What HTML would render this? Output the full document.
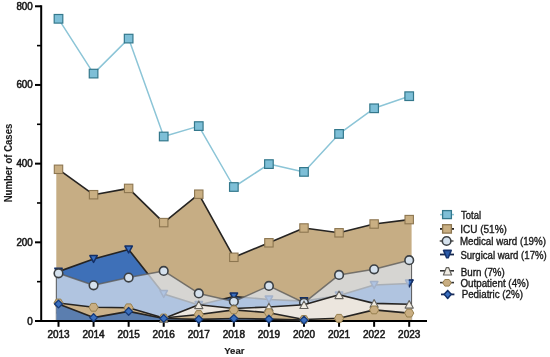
<!DOCTYPE html>
<html><head><meta charset="utf-8"><style>
html,body{margin:0;padding:0;background:#fff;}
svg{display:block;filter:blur(0.3px);}
text{font-family:"Liberation Sans",Arial,sans-serif;fill:#1a1a1a;stroke:#1a1a1a;stroke-width:0.25px;}
</style></head><body>
<svg width="550" height="357" viewBox="0 0 550 357">
<rect width="550" height="357" fill="#fff"/>
<line x1="41.2" y1="5.3" x2="41.2" y2="322.0" stroke="#000" stroke-width="2"/>
<line x1="35" y1="321.0" x2="427" y2="321.0" stroke="#000" stroke-width="2"/>
<line x1="35" y1="6.28" x2="41.2" y2="6.28" stroke="#000" stroke-width="2"/>
<line x1="35" y1="84.96" x2="41.2" y2="84.96" stroke="#000" stroke-width="2"/>
<line x1="35" y1="163.64" x2="41.2" y2="163.64" stroke="#000" stroke-width="2"/>
<line x1="35" y1="242.32" x2="41.2" y2="242.32" stroke="#000" stroke-width="2"/>
<line x1="37" y1="45.62" x2="41.2" y2="45.62" stroke="#000" stroke-width="1.6"/>
<line x1="37" y1="124.3" x2="41.2" y2="124.3" stroke="#000" stroke-width="1.6"/>
<line x1="37" y1="202.98" x2="41.2" y2="202.98" stroke="#000" stroke-width="1.6"/>
<line x1="37" y1="281.66" x2="41.2" y2="281.66" stroke="#000" stroke-width="1.6"/>
<line x1="58.5" y1="321.0" x2="58.5" y2="326.8" stroke="#000" stroke-width="2"/>
<line x1="93.57" y1="321.0" x2="93.57" y2="326.8" stroke="#000" stroke-width="2"/>
<line x1="128.64" y1="321.0" x2="128.64" y2="326.8" stroke="#000" stroke-width="2"/>
<line x1="163.71" y1="321.0" x2="163.71" y2="326.8" stroke="#000" stroke-width="2"/>
<line x1="198.78" y1="321.0" x2="198.78" y2="326.8" stroke="#000" stroke-width="2"/>
<line x1="233.85" y1="321.0" x2="233.85" y2="326.8" stroke="#000" stroke-width="2"/>
<line x1="268.92" y1="321.0" x2="268.92" y2="326.8" stroke="#000" stroke-width="2"/>
<line x1="303.99" y1="321.0" x2="303.99" y2="326.8" stroke="#000" stroke-width="2"/>
<line x1="339.06" y1="321.0" x2="339.06" y2="326.8" stroke="#000" stroke-width="2"/>
<line x1="374.13" y1="321.0" x2="374.13" y2="326.8" stroke="#000" stroke-width="2"/>
<line x1="409.2" y1="321.0" x2="409.2" y2="326.8" stroke="#000" stroke-width="2"/>
<polygon points="56.3,320 56.3,169.3 58.5,169.3 93.57,194.7 128.64,188.4 163.71,222.6 198.78,194.2 233.85,257.3 268.92,242.8 303.99,228 339.06,232.8 374.13,224 409.2,219.6 411.6,219.6 411.6,320" fill="#c6ad84" fill-opacity="1.0" stroke="none"/>
<polyline points="56.3,169.3 58.5,169.3 93.57,194.7 128.64,188.4 163.71,222.6 198.78,194.2 233.85,257.3 268.92,242.8 303.99,228 339.06,232.8 374.13,224 409.2,219.6 411.6,219.6" fill="none" stroke="#262422" stroke-width="1.65" stroke-opacity="1.0" stroke-linejoin="round"/>

<rect x="54.3" y="165.1" width="8.4" height="8.4" fill="#c9af83" stroke="#8c7650" stroke-width="1.1"/>
<rect x="89.37" y="190.5" width="8.4" height="8.4" fill="#c9af83" stroke="#8c7650" stroke-width="1.1"/>
<rect x="124.44" y="184.2" width="8.4" height="8.4" fill="#c9af83" stroke="#8c7650" stroke-width="1.1"/>
<rect x="159.51" y="218.4" width="8.4" height="8.4" fill="#c9af83" stroke="#8c7650" stroke-width="1.1"/>
<rect x="194.58" y="190" width="8.4" height="8.4" fill="#c9af83" stroke="#8c7650" stroke-width="1.1"/>
<rect x="229.65" y="253.1" width="8.4" height="8.4" fill="#c9af83" stroke="#8c7650" stroke-width="1.1"/>
<rect x="264.72" y="238.6" width="8.4" height="8.4" fill="#c9af83" stroke="#8c7650" stroke-width="1.1"/>
<rect x="299.79" y="223.8" width="8.4" height="8.4" fill="#c9af83" stroke="#8c7650" stroke-width="1.1"/>
<rect x="334.86" y="228.6" width="8.4" height="8.4" fill="#c9af83" stroke="#8c7650" stroke-width="1.1"/>
<rect x="369.93" y="219.8" width="8.4" height="8.4" fill="#c9af83" stroke="#8c7650" stroke-width="1.1"/>
<rect x="405" y="215.4" width="8.4" height="8.4" fill="#c9af83" stroke="#8c7650" stroke-width="1.1"/>
<polygon points="56.3,320 56.3,271.6 58.5,271.6 93.57,259 128.64,249.5 163.71,294 198.78,305 233.85,296.5 268.92,299.5 303.99,301.1 339.06,295.5 374.13,285 409.2,283.5 411.6,283.5 411.6,320" fill="#3e70b8" fill-opacity="1.0" stroke="none"/>
<polyline points="56.3,271.6 58.5,271.6 93.57,259 128.64,249.5 163.71,294 198.78,305 233.85,296.5 268.92,299.5 303.99,301.1 339.06,295.5 374.13,285 409.2,283.5 411.6,283.5" fill="none" stroke="#262422" stroke-width="1.65" stroke-opacity="1.0" stroke-linejoin="round"/>

<polygon points="54.8,268.2 62.2,268.2 58.5,275" fill="#3a6fc0" stroke="#132f66" stroke-width="1.5" stroke-linejoin="round"/>
<polygon points="89.87,255.6 97.27,255.6 93.57,262.4" fill="#3a6fc0" stroke="#132f66" stroke-width="1.5" stroke-linejoin="round"/>
<polygon points="124.94,246.1 132.34,246.1 128.64,252.9" fill="#3a6fc0" stroke="#132f66" stroke-width="1.5" stroke-linejoin="round"/>
<polygon points="160.01,290.6 167.41,290.6 163.71,297.4" fill="#3a6fc0" stroke="#132f66" stroke-width="1.5" stroke-linejoin="round"/>
<polygon points="195.08,301.6 202.48,301.6 198.78,308.4" fill="#3a6fc0" stroke="#132f66" stroke-width="1.5" stroke-linejoin="round"/>
<polygon points="230.15,293.1 237.55,293.1 233.85,299.9" fill="#3a6fc0" stroke="#132f66" stroke-width="1.5" stroke-linejoin="round"/>
<polygon points="265.22,296.1 272.62,296.1 268.92,302.9" fill="#3a6fc0" stroke="#132f66" stroke-width="1.5" stroke-linejoin="round"/>
<polygon points="300.29,297.7 307.69,297.7 303.99,304.5" fill="#3a6fc0" stroke="#132f66" stroke-width="1.5" stroke-linejoin="round"/>
<polygon points="335.36,292.1 342.76,292.1 339.06,298.9" fill="#3a6fc0" stroke="#132f66" stroke-width="1.5" stroke-linejoin="round"/>
<polygon points="370.43,281.6 377.83,281.6 374.13,288.4" fill="#3a6fc0" stroke="#132f66" stroke-width="1.5" stroke-linejoin="round"/>
<polygon points="405.5,280.1 412.9,280.1 409.2,286.9" fill="#3a6fc0" stroke="#132f66" stroke-width="1.5" stroke-linejoin="round"/>
<polygon points="56.3,320 56.3,273.3 58.5,273.3 93.57,285.3 128.64,277.6 163.71,270.9 198.78,293.4 233.85,301.5 268.92,285.9 303.99,302.8 339.06,274.9 374.13,269.3 409.2,260.2 411.6,260.2 411.6,320" fill="rgb(220,229,240)" fill-opacity="0.72" stroke="none"/>
<polyline points="56.3,320 56.3,273.3" fill="none" stroke="#5a5a5a" stroke-width="1"/>
<polyline points="411.6,260.2 411.6,320" fill="none" stroke="#5a5a5a" stroke-width="1"/>
<polyline points="56.3,273.3 58.5,273.3 93.57,285.3 128.64,277.6 163.71,270.9 198.78,293.4 233.85,301.5 268.92,285.9 303.99,302.8 339.06,274.9 374.13,269.3 409.2,260.2 411.6,260.2" fill="none" stroke="#5e5c5a" stroke-width="1.5" stroke-opacity="0.8" stroke-linejoin="round"/>

<circle cx="58.5" cy="273.3" r="4.3" fill="#d5e1ed" stroke="#3c4044" stroke-width="1.6"/>
<circle cx="93.57" cy="285.3" r="4.3" fill="#d5e1ed" stroke="#3c4044" stroke-width="1.6"/>
<circle cx="128.64" cy="277.6" r="4.3" fill="#d5e1ed" stroke="#3c4044" stroke-width="1.6"/>
<circle cx="163.71" cy="270.9" r="4.3" fill="#d5e1ed" stroke="#3c4044" stroke-width="1.6"/>
<circle cx="198.78" cy="293.4" r="4.3" fill="#d5e1ed" stroke="#3c4044" stroke-width="1.6"/>
<circle cx="233.85" cy="301.5" r="4.3" fill="#d5e1ed" stroke="#3c4044" stroke-width="1.6"/>
<circle cx="268.92" cy="285.9" r="4.3" fill="#d5e1ed" stroke="#3c4044" stroke-width="1.6"/>
<circle cx="303.99" cy="302.8" r="4.3" fill="#d5e1ed" stroke="#3c4044" stroke-width="1.6"/>
<circle cx="339.06" cy="274.9" r="4.3" fill="#d5e1ed" stroke="#3c4044" stroke-width="1.6"/>
<circle cx="374.13" cy="269.3" r="4.3" fill="#d5e1ed" stroke="#3c4044" stroke-width="1.6"/>
<circle cx="409.2" cy="260.2" r="4.3" fill="#d5e1ed" stroke="#3c4044" stroke-width="1.6"/>
<clipPath id="cr"><rect x="408.8" y="270" width="10" height="30"/></clipPath>
<g clip-path="url(#cr)"><polygon points="405.5,280.1 412.9,280.1 409.2,286.9" fill="#3a6fc0" stroke="#132f66" stroke-width="1.5" stroke-linejoin="round"/></g>
<polygon points="56.3,320 56.3,313 58.5,313 93.57,315 128.64,315 163.71,318.5 198.78,304.8 233.85,308.5 268.92,307 303.99,304.7 339.06,294.8 374.13,303.4 409.2,304.3 411.6,304.3 411.6,320" fill="#ece6de" fill-opacity="1.0" stroke="none"/>
<polyline points="56.3,313 58.5,313 93.57,315 128.64,315 163.71,318.5 198.78,304.8 233.85,308.5 268.92,307 303.99,304.7 339.06,294.8 374.13,303.4 409.2,304.3 411.6,304.3" fill="none" stroke="#262422" stroke-width="1.65" stroke-opacity="1.0" stroke-linejoin="round"/>

<polygon points="159.61,322.3 167.81,322.3 163.71,314.7" fill="#efebe2" stroke="#65635e" stroke-width="1.1" stroke-linejoin="round"/>
<polygon points="194.68,308.6 202.88,308.6 198.78,301" fill="#efebe2" stroke="#65635e" stroke-width="1.1" stroke-linejoin="round"/>
<polygon points="229.75,312.3 237.95,312.3 233.85,304.7" fill="#efebe2" stroke="#65635e" stroke-width="1.1" stroke-linejoin="round"/>
<polygon points="264.82,310.8 273.02,310.8 268.92,303.2" fill="#efebe2" stroke="#65635e" stroke-width="1.1" stroke-linejoin="round"/>
<polygon points="299.89,308.5 308.09,308.5 303.99,300.9" fill="#efebe2" stroke="#65635e" stroke-width="1.1" stroke-linejoin="round"/>
<polygon points="334.96,298.6 343.16,298.6 339.06,291" fill="#efebe2" stroke="#65635e" stroke-width="1.1" stroke-linejoin="round"/>
<polygon points="370.03,307.2 378.23,307.2 374.13,299.6" fill="#efebe2" stroke="#65635e" stroke-width="1.1" stroke-linejoin="round"/>
<polygon points="405.1,308.1 413.3,308.1 409.2,300.5" fill="#efebe2" stroke="#65635e" stroke-width="1.1" stroke-linejoin="round"/>
<polygon points="56.3,320 56.3,303 58.5,303 93.57,307.3 128.64,307.8 163.71,318 198.78,314.5 233.85,309.9 268.92,312.7 303.99,319.5 339.06,318.3 374.13,309.9 409.2,313.1 411.6,313.1 411.6,320" fill="#cbb28a" fill-opacity="1.0" stroke="none"/>
<polyline points="56.3,303 58.5,303 93.57,307.3 128.64,307.8 163.71,318 198.78,314.5 233.85,309.9 268.92,312.7 303.99,319.5 339.06,318.3 374.13,309.9 409.2,313.1 411.6,313.1" fill="none" stroke="#262422" stroke-width="1.65" stroke-opacity="1.0" stroke-linejoin="round"/>

<polygon points="53.9,303 56.2,299.1 60.8,299.1 63.1,303 60.8,306.9 56.2,306.9" fill="#c9ae82" stroke="#97804f" stroke-width="1"/>
<polygon points="88.97,307.3 91.27,303.4 95.87,303.4 98.17,307.3 95.87,311.2 91.27,311.2" fill="#c9ae82" stroke="#97804f" stroke-width="1"/>
<polygon points="124.04,307.8 126.34,303.9 130.94,303.9 133.24,307.8 130.94,311.7 126.34,311.7" fill="#c9ae82" stroke="#97804f" stroke-width="1"/>
<polygon points="159.11,318 161.41,314.1 166.01,314.1 168.31,318 166.01,321.9 161.41,321.9" fill="#c9ae82" stroke="#97804f" stroke-width="1"/>
<polygon points="194.18,314.5 196.48,310.6 201.08,310.6 203.38,314.5 201.08,318.4 196.48,318.4" fill="#c9ae82" stroke="#97804f" stroke-width="1"/>
<polygon points="229.25,309.9 231.55,306 236.15,306 238.45,309.9 236.15,313.8 231.55,313.8" fill="#c9ae82" stroke="#97804f" stroke-width="1"/>
<polygon points="264.32,312.7 266.62,308.8 271.22,308.8 273.52,312.7 271.22,316.6 266.62,316.6" fill="#c9ae82" stroke="#97804f" stroke-width="1"/>
<polygon points="299.39,319.5 301.69,315.6 306.29,315.6 308.59,319.5 306.29,323.4 301.69,323.4" fill="#c9ae82" stroke="#97804f" stroke-width="1"/>
<polygon points="334.46,318.3 336.76,314.4 341.36,314.4 343.66,318.3 341.36,322.2 336.76,322.2" fill="#c9ae82" stroke="#97804f" stroke-width="1"/>
<polygon points="369.53,309.9 371.83,306 376.43,306 378.73,309.9 376.43,313.8 371.83,313.8" fill="#c9ae82" stroke="#97804f" stroke-width="1"/>
<polygon points="404.6,313.1 406.9,309.2 411.5,309.2 413.8,313.1 411.5,317 406.9,317" fill="#c9ae82" stroke="#97804f" stroke-width="1"/>
<polygon points="56.3,320 56.3,304 58.5,304 93.57,317.6 128.64,311.4 163.71,318.5 198.78,319.4 233.85,318.5 268.92,319.1 303.99,320.1 306.39,320.1 306.39,320" fill="#3e70b8" fill-opacity="0.8" stroke="none"/>
<polyline points="56.3,304 58.5,304 93.57,317.6 128.64,311.4 163.71,318.5 198.78,319.4 233.85,318.5 268.92,319.1 303.99,320.1 306.39,320.1" fill="none" stroke="#262422" stroke-width="1.65" stroke-opacity="1.0" stroke-linejoin="round"/>

<polygon points="58.5,300.1 62.4,304 58.5,307.9 54.6,304" fill="#3b70c0" stroke="#163a78" stroke-width="1.3" stroke-linejoin="round"/>
<polygon points="93.57,313.7 97.47,317.6 93.57,321.5 89.67,317.6" fill="#3b70c0" stroke="#163a78" stroke-width="1.3" stroke-linejoin="round"/>
<polygon points="128.64,307.5 132.54,311.4 128.64,315.3 124.74,311.4" fill="#3b70c0" stroke="#163a78" stroke-width="1.3" stroke-linejoin="round"/>
<polygon points="163.71,314.6 167.61,318.5 163.71,322.4 159.81,318.5" fill="#3b70c0" stroke="#163a78" stroke-width="1.3" stroke-linejoin="round"/>
<polygon points="198.78,315.5 202.68,319.4 198.78,323.3 194.88,319.4" fill="#3b70c0" stroke="#163a78" stroke-width="1.3" stroke-linejoin="round"/>
<polygon points="233.85,314.6 237.75,318.5 233.85,322.4 229.95,318.5" fill="#3b70c0" stroke="#163a78" stroke-width="1.3" stroke-linejoin="round"/>
<polygon points="268.92,315.2 272.82,319.1 268.92,323 265.02,319.1" fill="#3b70c0" stroke="#163a78" stroke-width="1.3" stroke-linejoin="round"/>
<polygon points="303.99,316.2 307.89,320.1 303.99,324 300.09,320.1" fill="#3b70c0" stroke="#163a78" stroke-width="1.3" stroke-linejoin="round"/>
<polyline points="58.5,18.8 93.57,73.6 128.64,38.6 163.71,136.5 198.78,126.1 233.85,187 268.92,164.1 303.99,171.9 339.06,133.9 374.13,108.3 409.2,96.2" fill="none" stroke="#8cc5d7" stroke-width="1.5" stroke-linejoin="round"/>

<rect x="54.2" y="14.5" width="8.6" height="8.6" fill="#7ebfd7" stroke="#34788c" stroke-width="1.2"/>
<rect x="89.27" y="69.3" width="8.6" height="8.6" fill="#7ebfd7" stroke="#34788c" stroke-width="1.2"/>
<rect x="124.34" y="34.3" width="8.6" height="8.6" fill="#7ebfd7" stroke="#34788c" stroke-width="1.2"/>
<rect x="159.41" y="132.2" width="8.6" height="8.6" fill="#7ebfd7" stroke="#34788c" stroke-width="1.2"/>
<rect x="194.48" y="121.8" width="8.6" height="8.6" fill="#7ebfd7" stroke="#34788c" stroke-width="1.2"/>
<rect x="229.55" y="182.7" width="8.6" height="8.6" fill="#7ebfd7" stroke="#34788c" stroke-width="1.2"/>
<rect x="264.62" y="159.8" width="8.6" height="8.6" fill="#7ebfd7" stroke="#34788c" stroke-width="1.2"/>
<rect x="299.69" y="167.6" width="8.6" height="8.6" fill="#7ebfd7" stroke="#34788c" stroke-width="1.2"/>
<rect x="334.76" y="129.6" width="8.6" height="8.6" fill="#7ebfd7" stroke="#34788c" stroke-width="1.2"/>
<rect x="369.83" y="104" width="8.6" height="8.6" fill="#7ebfd7" stroke="#34788c" stroke-width="1.2"/>
<rect x="404.9" y="91.9" width="8.6" height="8.6" fill="#7ebfd7" stroke="#34788c" stroke-width="1.2"/>
<text x="32.8" y="9.78" text-anchor="end" font-size="10" textLength="16.4" lengthAdjust="spacingAndGlyphs" style="stroke-width:0.55px">800</text>
<text x="32.8" y="88.46" text-anchor="end" font-size="10" textLength="16.4" lengthAdjust="spacingAndGlyphs" style="stroke-width:0.55px">600</text>
<text x="32.8" y="167.14" text-anchor="end" font-size="10" textLength="16.4" lengthAdjust="spacingAndGlyphs" style="stroke-width:0.55px">400</text>
<text x="32.8" y="245.82" text-anchor="end" font-size="10" textLength="16.4" lengthAdjust="spacingAndGlyphs" style="stroke-width:0.55px">200</text>
<text x="32.8" y="324.5" text-anchor="end" font-size="10" textLength="5.5" lengthAdjust="spacingAndGlyphs" style="stroke-width:0.55px">0</text>
<text x="58.5" y="337.8" text-anchor="middle" font-size="10" textLength="22.2" lengthAdjust="spacingAndGlyphs" style="stroke-width:0.55px">2013</text>
<text x="93.57" y="337.8" text-anchor="middle" font-size="10" textLength="22.2" lengthAdjust="spacingAndGlyphs" style="stroke-width:0.55px">2014</text>
<text x="128.64" y="337.8" text-anchor="middle" font-size="10" textLength="22.2" lengthAdjust="spacingAndGlyphs" style="stroke-width:0.55px">2015</text>
<text x="163.71" y="337.8" text-anchor="middle" font-size="10" textLength="22.2" lengthAdjust="spacingAndGlyphs" style="stroke-width:0.55px">2016</text>
<text x="198.78" y="337.8" text-anchor="middle" font-size="10" textLength="22.2" lengthAdjust="spacingAndGlyphs" style="stroke-width:0.55px">2017</text>
<text x="233.85" y="337.8" text-anchor="middle" font-size="10" textLength="22.2" lengthAdjust="spacingAndGlyphs" style="stroke-width:0.55px">2018</text>
<text x="268.92" y="337.8" text-anchor="middle" font-size="10" textLength="22.2" lengthAdjust="spacingAndGlyphs" style="stroke-width:0.55px">2019</text>
<text x="303.99" y="337.8" text-anchor="middle" font-size="10" textLength="22.2" lengthAdjust="spacingAndGlyphs" style="stroke-width:0.55px">2020</text>
<text x="339.06" y="337.8" text-anchor="middle" font-size="10" textLength="22.2" lengthAdjust="spacingAndGlyphs" style="stroke-width:0.55px">2021</text>
<text x="374.13" y="337.8" text-anchor="middle" font-size="10" textLength="22.2" lengthAdjust="spacingAndGlyphs" style="stroke-width:0.55px">2022</text>
<text x="409.2" y="337.8" text-anchor="middle" font-size="10" textLength="22.2" lengthAdjust="spacingAndGlyphs" style="stroke-width:0.55px">2023</text>
<text x="234.4" y="354.3" text-anchor="middle" font-size="9.4" font-weight="bold" textLength="20.4" lengthAdjust="spacingAndGlyphs" style="stroke-width:0.15px">Year</text>
<text transform="translate(11.6,163) rotate(-90)" text-anchor="middle" font-size="10" font-weight="bold" textLength="78.6" lengthAdjust="spacingAndGlyphs" style="stroke-width:0.1px">Number of Cases</text>
<text x="461.1" y="219.1" font-size="10" style="stroke-width:0.35px" textLength="19.9" lengthAdjust="spacingAndGlyphs">Total</text>
<text x="460.2" y="233.3" font-size="10" style="stroke-width:0.35px" textLength="46.7" lengthAdjust="spacingAndGlyphs">ICU (51%)</text>
<text x="459.9" y="244.9" font-size="10" style="stroke-width:0.35px" textLength="86" lengthAdjust="spacingAndGlyphs">Medical ward (19%)</text>
<text x="460.4" y="259.1" font-size="10" style="stroke-width:0.35px" textLength="86.3" lengthAdjust="spacingAndGlyphs">Surgical ward (17%)</text>
<text x="460.8" y="275.5" font-size="10" style="stroke-width:0.35px" textLength="44" lengthAdjust="spacingAndGlyphs">Burn (7%)</text>
<text x="460.4" y="286.5" font-size="10" style="stroke-width:0.35px" textLength="68.7" lengthAdjust="spacingAndGlyphs">Outpatient (4%)</text>
<text x="461.7" y="297.5" font-size="10" style="stroke-width:0.35px" textLength="61.3" lengthAdjust="spacingAndGlyphs">Pediatric (2%)</text>
<line x1="440" y1="214.6" x2="454" y2="214.6" stroke="#8cc5d7" stroke-width="1.5"/>
<rect x="442.6" y="210.6" width="8.8" height="8" fill="#7ebfd7" stroke="#34788c" stroke-width="1.3"/>
<line x1="440" y1="228.9" x2="454" y2="228.9" stroke="#262422" stroke-width="1.8"/>
<rect x="442.6" y="224.7" width="8.8" height="8.4" fill="#c9af83" stroke="#8c7650" stroke-width="1.3"/>
<line x1="439.7" y1="241" x2="453.5" y2="241" stroke="#5e5c5a" stroke-width="1.6"/>
<circle cx="446.6" cy="241" r="4.3" fill="#d5e1ed" stroke="#3c4044" stroke-width="1.6"/>
<line x1="440" y1="254.5" x2="454" y2="254.5" stroke="#16264a" stroke-width="1.8"/>
<polygon points="443.6,250.4 451.2,250.4 448.2,257.8 446.6,257.8" fill="#2b5cab" stroke="#15336e" stroke-width="1.6" stroke-linejoin="round"/>
<line x1="440" y1="270.8" x2="454" y2="270.8" stroke="#333" stroke-width="1.6"/>
<polygon points="443.4,275 451.6,275 448.6,267.6 446.4,267.6" fill="#efebe2" stroke="#65635e" stroke-width="1.2" stroke-linejoin="round"/>
<line x1="440" y1="282.6" x2="454" y2="282.6" stroke="#333" stroke-width="1.6"/>
<polygon points="442.7,282.8 444.85,279.5 449.15,279.5 451.3,282.8 449.15,286.1 444.85,286.1" fill="#c9ae82" stroke="#97804f" stroke-width="1"/>
<line x1="441" y1="294.4" x2="454.4" y2="294.4" stroke="#1a2a55" stroke-width="1.8"/>
<polygon points="447.7,290.4 451.2,294.3 447.7,298.4 444.2,294.3" fill="#3b70c0" stroke="#11306a" stroke-width="1.5" stroke-linejoin="round"/>
</svg>
</body></html>
